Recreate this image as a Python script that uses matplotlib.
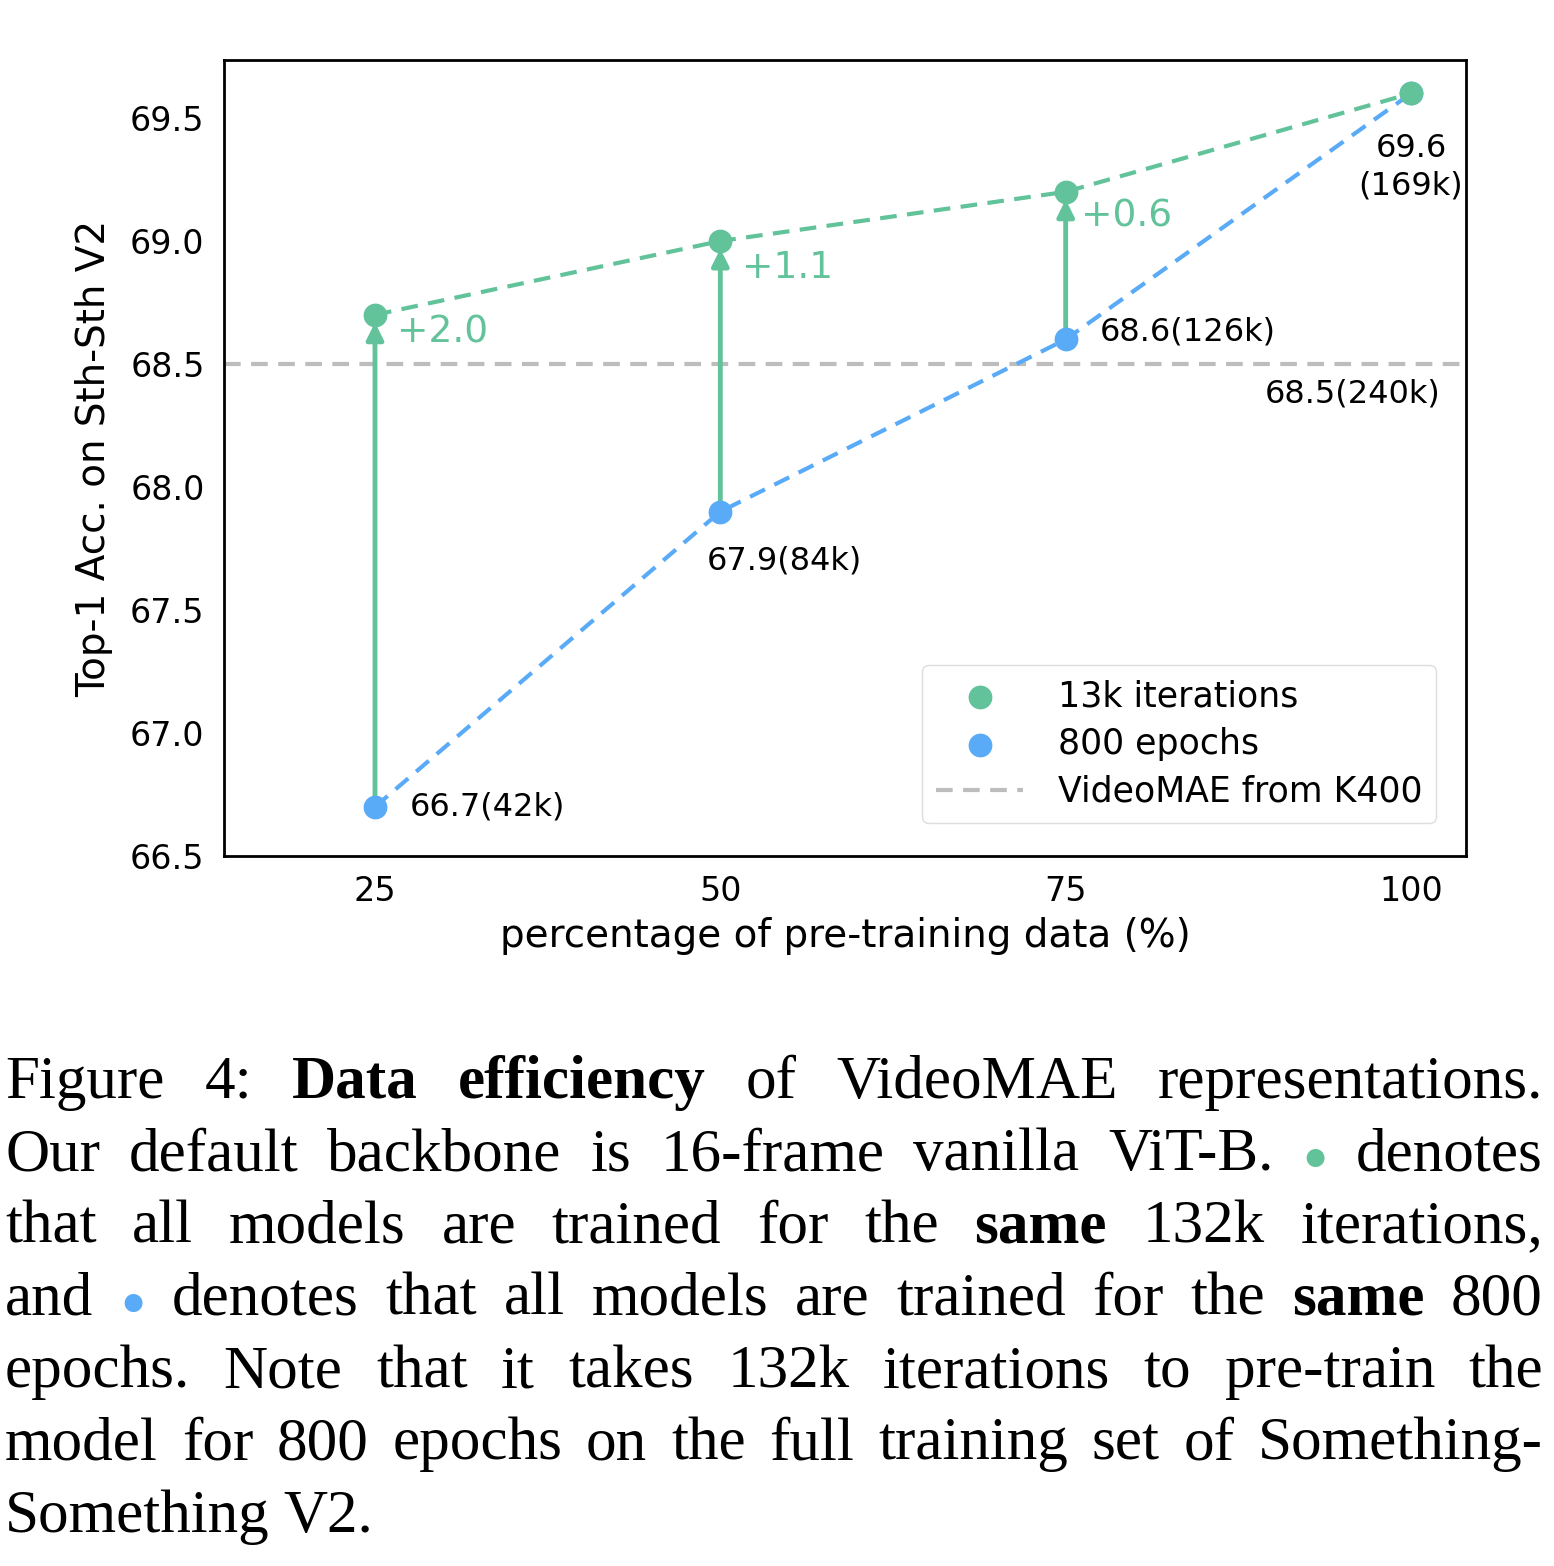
import matplotlib
matplotlib.use("Agg")
from matplotlib import pyplot as plt

pct = [25, 50, 75, 100]
acc_iters = [68.7, 69.0, 69.2, 69.6]
acc_epochs = [66.7, 67.9, 68.6, 69.6]
epoch_labels = ["66.7(42k)", "67.9(84k)", "68.6(126k)", "69.6\n(169k)"]
gains = ["+2.0", "+1.1", "+0.6"]
k400_acc = 68.5
k400_label = "68.5(240k)"
yticks = [66.5, 67.0, 67.5, 68.0, 68.5, 69.0, 69.5]

GREEN = "#62c39b"
BLUE = "#5aabf7"
GREY = "#bdbdbd"

W, H = 1554, 1566
fig = plt.figure(figsize=(W / 100, H / 100), dpi=100)
ax = fig.add_axes([224 / W, 1 - 856 / H, (1466 - 224) / W, (856 - 60) / H])

ax.axhline(k400_acc, color=GREY, ls="--", lw=3, dashes=(4, 2.5), label="VideoMAE from K400")
ax.plot(pct, acc_iters, color=GREEN, ls="--", lw=3, dashes=(4, 2.5))
ax.plot(pct, acc_epochs, color=BLUE, ls="--", lw=3, dashes=(4, 2.5))
for x, lo, hi in zip(pct[:3], acc_epochs[:3], acc_iters[:3]):
    ax.annotate("", xy=(x, hi - 0.02), xytext=(x, lo),
                arrowprops=dict(arrowstyle="-|>", color=GREEN, lw=3.5, mutation_scale=25))
ax.scatter(pct, acc_epochs, s=260, color=BLUE, zorder=5, label="800 epochs")
ax.scatter(pct, acc_iters, s=260, color=GREEN, zorder=6, label="13k iterations")

fs = 23
ax.text(27.5, acc_epochs[0], epoch_labels[0], fontsize=fs, va="center")
ax.text(49, acc_epochs[1] - 0.2, epoch_labels[1], fontsize=fs, va="center")
ax.text(77.5, acc_epochs[2] + 0.03, epoch_labels[2], fontsize=fs, va="center")
ax.text(100, acc_epochs[3] - 0.3, epoch_labels[3], fontsize=fs, va="center", ha="center",
        linespacing=1.25)
ax.text(89.4, k400_acc - 0.12, k400_label, fontsize=fs, va="center")
for x, y, g in zip([26.6, 51.6, 76.1], [68.63, 68.89, 69.1], gains):
    ax.text(x, y, g, fontsize=27, color=GREEN, va="center")

ax.set_xlim(14.07, 103.98)
ax.set_ylim(66.5, 69.736)
ax.set_xticks(pct)
ax.set_yticks(yticks)
ax.tick_params(length=0, labelsize=24, pad=14)
for s in ax.spines.values():
    s.set_linewidth(2)
ax.set_xlabel("percentage of pre-training data (%)", fontsize=28, labelpad=6)
ax.set_ylabel("Top-1 Acc. on Sth-Sth V2", fontsize=28, labelpad=12)

handles, labels = ax.get_legend_handles_labels()
order = [2, 1, 0]
ax.legend([handles[i] for i in order], [labels[i] for i in order], loc="lower right",
          fontsize=25, frameon=True, fancybox=True, borderpad=0.4, handlelength=2.5,
          handletextpad=1.0, labelspacing=0.4, framealpha=1, edgecolor="#dddddd",
          bbox_to_anchor=(0.99, 0.02))

# caption
lines = [
    [("Figure 4:", "normal", "k"), ("Data efficiency", "bold", "k"),
     ("of VideoMAE representations.", "normal", "k")],
    [("Our default backbone is 16-frame vanilla ViT-B.", "normal", "k"), ("●", "normal", GREEN),
     ("denotes", "normal", "k")],
    [("that all models are trained for the", "normal", "k"), ("same", "bold", "k"),
     ("132k iterations,", "normal", "k")],
    [("and", "normal", "k"), ("●", "normal", BLUE),
     ("denotes that all models are trained for the", "normal", "k"), ("same", "bold", "k"),
     ("800", "normal", "k")],
    [("epochs.  Note that it takes 132k iterations to pre-train the", "normal", "k")],
    [("model for 800 epochs on the full training set of Something-", "normal", "k")],
    [("Something V2.", "normal", "k")],
]
fig.canvas.draw()
r = fig.canvas.get_renderer()
x0, x1 = 5, 1543
for i, runs in enumerate(lines):
    yb = 1 - (1098 + i * 72.3) / H
    words = []
    for t, wgt, c in runs:
        for w in t.split():
            words.append((w, wgt, c))
    objs = []
    for w, wgt, c in words:
        size = 30 if w == "●" else 44
        objs.append(fig.text(0, yb, w, fontsize=size, family="Liberation Serif",
                             weight=wgt, color=c, va="baseline"))
    widths = [o.get_window_extent(r).width for o in objs]
    if i < len(lines) - 1:
        gap = (x1 - x0 - sum(widths)) / (len(objs) - 1)
    else:
        gap = 14
    x = x0
    for o, wd in zip(objs, widths):
        o.set_x(x / W)
        x += wd + gap

fig.savefig("out.png", dpi=100)
